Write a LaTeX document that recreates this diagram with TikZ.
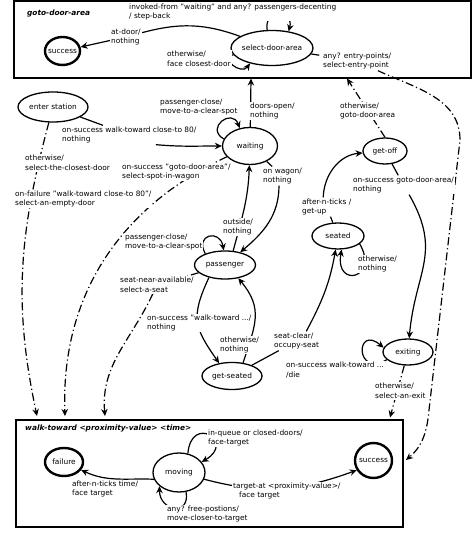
\documentclass[tikz,border=0pt]{standalone}
\usepackage{fontspec}
\setmainfont{DejaVu Sans}
\usetikzlibrary{shapes.geometric,arrows.meta,backgrounds}

\begin{document}
\begin{tikzpicture}[x=1pt,y=1pt,
    font=\fontsize{7.4}{9.8}\selectfont,
    >={Stealth[length=7pt,width=6.5pt]},
    state/.style={ellipse,draw,line width=1.3pt,inner xsep=-4pt,inner ysep=0pt},
    final/.style={state,line width=2.4pt},
    box/.style={draw,line width=1.4pt,inner sep=0pt},
    boxtitle/.style={anchor=west,inner sep=1pt,font=\fontsize{7.4}{9.8}\selectfont\bfseries\itshape},
    lbl/.style={fill=white,align=left,inner sep=1pt,anchor=west},
    trans/.style={->,line width=1.2pt},
    call/.style={trans,dash pattern=on 8pt off 3pt on 1.2pt off 3pt}]
    \useasboundingbox (0,0) rectangle (474,535);

    \node[box,minimum width=457,minimum height=77] (gdbox) at (242.5,495.5) {};
    \node[boxtitle] (gdtitle) at (26,522) {goto-door-area};
    \node[lbl] (invoked) at (128,523) {invoked-from "waiting" and any? passengers-decenting\\/ step-back};
    \node[final,minimum width=35,minimum height=28] (gdsuccess) at (62.5,484) {success};
    \node[state,minimum width=82,minimum height=35] (seldoor) at (272,487) {select-door-area};
    \node[lbl] (atdoor) at (110,498) {at-door/\\nothing};
    \node[lbl] (facedoor) at (166,476) {otherwise/\\face closest-door};
    \node[lbl] (entry) at (322,474) {any? entry-points/\\select-entry-point};

    \node[state,minimum width=70,minimum height=30] (enter) at (53,428) {enter station};
    \node[state,minimum width=55,minimum height=37] (waiting) at (250,389) {waiting};
    \node[state,minimum width=61,minimum height=28] (passenger) at (225,270) {passenger};
    \node[state,minimum width=60,minimum height=27] (getseated) at (232,159) {get-seated};
    \node[state,minimum width=52,minimum height=26] (seated) at (338,299) {seated};
    \node[state,minimum width=44,minimum height=26] (getoff) at (385,384) {get-off};
    \node[state,minimum width=50,minimum height=26] (exiting) at (408,183) {exiting};

    \node[lbl] (onsucc1) at (61,400) {on-success walk-toward close-to 80/\\nothing};
    \node[lbl] (closest) at (24,372) {otherwise/\\select-the-closest-door};
    \node[lbl] (onsucc2) at (121,363) {on-success "goto-door-area"/\\select-spot-in-wagon};
    \node[lbl] (onfail) at (14,336) {on-failure "walk-toward close-to 80"/\\select-an-empty-door};
    \node[lbl] (clear1) at (159,428) {passenger-close/\\move-to-a-clear-spot};
    \node[lbl] (doorsopen) at (249,424) {doors-open/\\nothing};
    \node[lbl] (gotodoor) at (339,424) {otherwise/\\goto-door-area};
    \node[lbl] (onwagon) at (262,359) {on wagon/\\nothing};
    \node[lbl] (onsuccgd) at (352,350) {on-success goto-door-area/\\nothing};
    \node[lbl] (getup) at (301,328) {after-n-ticks /\\get-up};
    \node[lbl] (outside) at (222,308) {outside/\\nothing};
    \node[lbl] (clear2) at (124,293) {passenger-close/\\move-to-a-clear-spot};
    \node[lbl] (seatnear) at (119,250) {seat-near-available/\\select-a-seat};
    \node[lbl] (seatedoth) at (357,271) {otherwise/\\nothing};
    \node[lbl] (onsuccwt) at (146,212) {on-success "walk-toward .../\\nothing};
    \node[lbl] (gsoth) at (219,190) {otherwise/\\nothing};
    \node[lbl] (seatclear) at (273,194) {seat-clear/\\occupy-seat};
    \node[lbl] (die) at (285,165) {on-success walk-toward ...\\/die};
    \node[lbl] (selexit) at (374,144) {otherwise/\\select-an-exit};

    \node[box,minimum width=387,minimum height=107] (wtbox) at (209.5,61.5) {};
    \node[boxtitle] (wttitle) at (24,107) {walk-toward <proximity-value> <time>};
    \node[final,minimum width=38,minimum height=28] (failure) at (64,73) {failure};
    \node[state,minimum width=52,minimum height=39] (moving) at (179,62.5) {moving};
    \node[final,minimum width=37,minimum height=35] (wtsuccess) at (373.5,74.5) {success};
    \node[lbl] (afterfail) at (71,46) {after-n-ticks time/\\face target};
    \node[lbl] (inqueue) at (207,97) {in-queue or closed-doors/\\face-target};
    \node[lbl] (freepos) at (166,21) {any? free-postions/\\move-closer-to-target};
    \node[lbl] (targetat) at (232,44) {target-at <proximity-value>/\\\hspace*{6pt}face target};

    \coordinate (gdin1) at (251,456.5);
    \coordinate (gdin2) at (347,456.5);
    \coordinate (wtin1) at (37,119);
    \coordinate (wtin2) at (65,119);
    \coordinate (wtin3) at (105,119);
    \coordinate (wtin4) at (390,117.5);
    \coordinate (wtin5) at (406,75);
    \coordinate (bendA) at (460,395);
    \coordinate (bendB) at (429,125);

    \begin{scope}[on background layer]
    \draw[trans] (seldoor) to[out=160,in=15] (atdoor) -- (gdsuccess);
    \draw[trans] (seldoor.190) to[out=190,in=235,distance=15pt] (seldoor.215);
    \draw[trans] (seldoor.105) to[out=100,in=75,distance=22pt] (seldoor.45);
    \draw[call] (seldoor) -- (entry) to[out=-25,in=90] (bendA) -- (bendB) to[out=-95,in=40] (wtin5);

    \draw[trans] (enter) -- (onsucc1) (onsucc1.-20) to[out=-5,in=180] (waiting);
    \draw[call] (enter) to[out=-105,in=102] (wtin1);
    \draw[call] (waiting) to[out=-155,in=92] (wtin2);
    \draw[call] (passenger) -- (seatnear) to[out=-115,in=95] (wtin3);
    \draw[trans] (waiting.165) to[out=150,in=110,distance=22pt] (waiting.120);
    \draw[trans] (waiting) -- (gdin1);
    \draw[call] (getoff.north) -- (gdin2);
    \draw[trans] (waiting) -- (onwagon) (onwagon.-110) to[out=-90,in=40] (passenger);
    \draw[trans] (passenger.60) to[out=75,in=-92] (waiting);
    \draw[trans] (passenger.150) to[out=120,in=100,distance=22pt] (passenger.95);
    \draw[trans] (passenger.218) to[out=-115,in=125,looseness=1.3] (getseated.135);
    \draw[trans] (getseated.50) to[out=72,in=-50,looseness=1.2] (passenger.-45);
    \draw[trans] (getseated) -- (seatclear) (seatclear.45) to[out=62,in=-100] (seated);
    \draw[trans] (seated.-20) to[out=-60,in=-100,distance=40pt] (seated.-75);
    \draw[trans] (seated) -- (getup) (getup.110) to[out=88,in=185] (getoff);
    \draw[trans] (getoff) -- (onsuccgd) (onsuccgd.-60) to[out=-60,in=85,looseness=1.2] (exiting);
    \draw[trans] (exiting.200) to[out=210,in=140,distance=37pt] (exiting.170);
    \draw[call] (exiting) -- (wtin4);

    \draw[trans] (moving.195) to[out=178,in=-25] (failure);
    \draw[trans] (moving.65) to[out=85,in=30,distance=40pt] (moving.25);
    \draw[trans] (moving.-70) to[out=-80,in=-90,distance=25pt] (moving.215);
    \draw[trans] (moving.-15) to[out=-15,in=200,distance=60pt] (wtsuccess.210);
    \end{scope}
\end{tikzpicture}
\end{document}
